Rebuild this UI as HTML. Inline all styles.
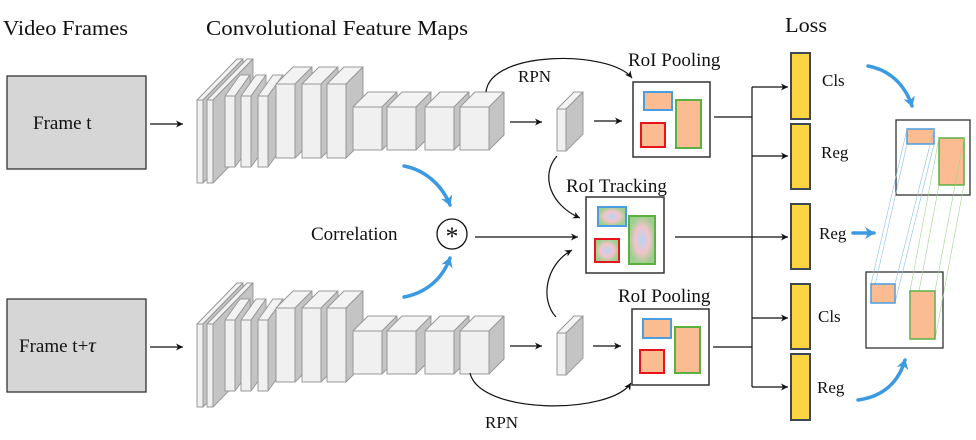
<!DOCTYPE html>
<html><head><meta charset="utf-8"><style>
html,body{margin:0;padding:0;background:#fff;}
svg{display:block;}
text{font-family:"Liberation Serif",serif;fill:#111;}
</style></head><body>
<svg width="976" height="440" viewBox="0 0 976 440" xmlns="http://www.w3.org/2000/svg">
<defs>
<marker id="ah" markerWidth="8" markerHeight="8" refX="7" refY="4" orient="auto" markerUnits="userSpaceOnUse">
<path d="M0,0.5 L7,4 L0,7.5 L2,4 Z" fill="#111"/></marker>
<marker id="bh" markerWidth="12" markerHeight="12" refX="9" refY="6" orient="auto" markerUnits="userSpaceOnUse">
<path d="M0,0 L10,6 L0,12 L3,6 Z" fill="#3b9ae1"/></marker>
<radialGradient id="rg"><stop offset="0" stop-color="#b8d4f5"/><stop offset="0.55" stop-color="#f2c4cc"/><stop offset="1" stop-color="#9fcf8e"/></radialGradient>
<g id="conv" stroke="#999" stroke-width="1" stroke-linejoin="round">
<g><polygon points="197,100 237,59 243,59 203,100" fill="#f3f3f3"/><polygon points="203,100 243,59 243,142 203,183" fill="#c4c4c4"/><rect x="197" y="100" width="6" height="83" fill="#f0f0f0"/></g>
<g><polygon points="207,100 247,59 253,59 213,100" fill="#f3f3f3"/><polygon points="213,100 253,59 253,142 213,183" fill="#c4c4c4"/><rect x="207" y="100" width="6" height="83" fill="#f0f0f0"/></g>
<g><polygon points="225,96 240,75 250,75 235,96" fill="#f3f3f3"/><polygon points="235,96 250,75 250,146 235,167" fill="#c4c4c4"/><rect x="225" y="96" width="10" height="71" fill="#f0f0f0"/></g>
<g><polygon points="241,96 256,75 266,75 251,96" fill="#f3f3f3"/><polygon points="251,96 266,75 266,146 251,167" fill="#c4c4c4"/><rect x="241" y="96" width="10" height="71" fill="#f0f0f0"/></g>
<g><polygon points="258,96 273,75 283,75 268,96" fill="#f3f3f3"/><polygon points="268,96 283,75 283,146 268,167" fill="#c4c4c4"/><rect x="258" y="96" width="10" height="71" fill="#f0f0f0"/></g>
<g><polygon points="276,84 293,67 312,67 295,84" fill="#f3f3f3"/><polygon points="295,84 312,67 312,141 295,158" fill="#c4c4c4"/><rect x="276" y="84" width="19" height="74" fill="#f0f0f0"/></g>
<g><polygon points="302,84 319,67 338,67 321,84" fill="#f3f3f3"/><polygon points="321,84 338,67 338,141 321,158" fill="#c4c4c4"/><rect x="302" y="84" width="19" height="74" fill="#f0f0f0"/></g>
<g><polygon points="327,84 344,67 363,67 346,84" fill="#f3f3f3"/><polygon points="346,84 363,67 363,141 346,158" fill="#c4c4c4"/><rect x="327" y="84" width="19" height="74" fill="#f0f0f0"/></g>
<g><polygon points="353,107 368,92 397,92 382,107" fill="#f3f3f3"/><polygon points="382,107 397,92 397,135 382,150" fill="#c4c4c4"/><rect x="353" y="107" width="29" height="43" fill="#f0f0f0"/></g>
<g><polygon points="387,107 402,92 431,92 416,107" fill="#f3f3f3"/><polygon points="416,107 431,92 431,135 416,150" fill="#c4c4c4"/><rect x="387" y="107" width="29" height="43" fill="#f0f0f0"/></g>
<g><polygon points="425,107 440,92 469,92 454,107" fill="#f3f3f3"/><polygon points="454,107 469,92 469,135 454,150" fill="#c4c4c4"/><rect x="425" y="107" width="29" height="43" fill="#f0f0f0"/></g>
<g><polygon points="460,107 475,92 504,92 489,107" fill="#f3f3f3"/><polygon points="489,107 504,92 504,135 489,150" fill="#c4c4c4"/><rect x="460" y="107" width="29" height="43" fill="#f0f0f0"/></g>
<g><polygon points="557,109 574,92 583,92 566,109" fill="#f3f3f3"/><polygon points="566,109 583,92 583,134 566,151" fill="#c4c4c4"/><rect x="557" y="109" width="9" height="42" fill="#f0f0f0"/></g>
</g>
</defs>

<!-- titles -->
<text x="3" y="35" font-size="21" textLength="125" lengthAdjust="spacingAndGlyphs">Video Frames</text>
<text x="206" y="35" font-size="21" textLength="262" lengthAdjust="spacingAndGlyphs">Convolutional Feature Maps</text>
<text x="785" y="32" font-size="21" textLength="42" lengthAdjust="spacingAndGlyphs">Loss</text>

<!-- frames -->
<rect x="7" y="76" width="139" height="93" fill="#d6d6d6" stroke="#333" stroke-width="1.3"/>
<text x="33" y="129" font-size="19">Frame t</text>
<rect x="7" y="299" width="139" height="93" fill="#d6d6d6" stroke="#333" stroke-width="1.3"/>
<text x="19" y="352" font-size="19">Frame t+<tspan font-style="italic" font-size="21">τ</tspan></text>

<use href="#conv"/>
<use href="#conv" y="224"/>

<g stroke="#111" stroke-width="1.2" fill="none">
<line x1="150" y1="124" x2="183" y2="124" marker-end="url(#ah)"/>
<line x1="150" y1="347" x2="183" y2="347" marker-end="url(#ah)"/>
<line x1="510" y1="122" x2="542" y2="122" marker-end="url(#ah)"/>
<line x1="510" y1="346" x2="542" y2="346" marker-end="url(#ah)"/>
<line x1="594" y1="121" x2="622" y2="121" marker-end="url(#ah)"/>
<line x1="593" y1="346" x2="621" y2="346" marker-end="url(#ah)"/>
<path d="M486,92 C490,50 610,50 632,78" marker-end="url(#ah)"/>
<path d="M470,373 C480,415 610,415 631,383" marker-end="url(#ah)"/>
<path d="M557,156 C540,175 550,205 580,218" marker-end="url(#ah)"/>
<path d="M556,317 C540,300 545,265 572,250" marker-end="url(#ah)"/>
<line x1="475" y1="237" x2="578" y2="237" marker-end="url(#ah)"/>
<line x1="675" y1="237" x2="788" y2="237" marker-end="url(#ah)"/>
<line x1="714" y1="117" x2="752" y2="117"/>
<line x1="713" y1="347" x2="752" y2="347"/>
<line x1="752" y1="87" x2="752" y2="387"/>
<line x1="752" y1="87" x2="788" y2="87" marker-end="url(#ah)"/>
<line x1="752" y1="156" x2="788" y2="156" marker-end="url(#ah)"/>
<line x1="752" y1="318" x2="788" y2="318" marker-end="url(#ah)"/>
<line x1="752" y1="387" x2="788" y2="387" marker-end="url(#ah)"/>
</g>

<text x="518" y="82" font-size="17">RPN</text>
<text x="485" y="428" font-size="17">RPN</text>

<!-- correlation -->
<text x="311" y="240" font-size="19">Correlation</text>
<circle cx="452" cy="234" r="15" fill="#fff" stroke="#111" stroke-width="1.3"/>
<text x="452" y="245" font-size="26" text-anchor="middle" font-family="Liberation Sans">*</text>
<g stroke="#3b9ae1" stroke-width="3.5" fill="none" stroke-linecap="round">
<path d="M404,166 C425,170 442,185 450,205" marker-end="url(#bh)"/>
<path d="M404,297 C425,293 442,280 450,258" marker-end="url(#bh)"/>
<path d="M868,66 C890,70 905,85 912,106" marker-end="url(#bh)"/>
<path d="M858,400 C880,397 898,385 905,360" marker-end="url(#bh)"/>
<line x1="853" y1="233" x2="874" y2="233" marker-end="url(#bh)"/>
</g>

<!-- RoI pooling top -->
<text x="628" y="66" font-size="19">RoI Pooling</text>
<rect x="633" y="82" width="77" height="75" fill="#fff" stroke="#333" stroke-width="1.5"/>
<rect x="644" y="92" width="28" height="18" fill="#fcbc92" stroke="#4a9ee0" stroke-width="2"/>
<rect x="641" y="123" width="24" height="24" fill="#fcbc92" stroke="#e8141b" stroke-width="2"/>
<rect x="676" y="100" width="25" height="48" fill="#fcbc92" stroke="#5bb043" stroke-width="2"/>
<!-- RoI pooling bottom -->
<text x="618" y="302" font-size="19">RoI Pooling</text>
<rect x="632" y="309" width="77" height="76" fill="#fff" stroke="#333" stroke-width="1.5"/>
<rect x="643" y="319" width="28" height="19" fill="#fcbc92" stroke="#4a9ee0" stroke-width="2"/>
<rect x="640" y="350" width="24" height="23" fill="#fcbc92" stroke="#e8141b" stroke-width="2"/>
<rect x="675" y="327" width="25" height="46" fill="#fcbc92" stroke="#5bb043" stroke-width="2"/>
<!-- RoI tracking -->
<text x="566" y="192" font-size="19">RoI Tracking</text>
<rect x="586" y="197" width="78" height="76" fill="#fff" stroke="#333" stroke-width="1.5"/>
<rect x="598" y="207" width="28" height="19" fill="url(#rg)" stroke="#4a9ee0" stroke-width="2"/>
<rect x="595" y="239" width="24" height="23" fill="url(#rg)" stroke="#e8141b" stroke-width="2"/>
<rect x="629" y="216" width="26" height="48" fill="url(#rg)" stroke="#5bb043" stroke-width="2"/>

<!-- loss bars -->
<g fill="#fdd441" stroke="#3c4656" stroke-width="2">
<rect x="791" y="53" width="19" height="66"/>
<rect x="791" y="124" width="19" height="65"/>
<rect x="791" y="204" width="19" height="65"/>
<rect x="791" y="284" width="19" height="65"/>
<rect x="791" y="354" width="19" height="66"/>
</g>
<text x="822" y="86" font-size="17">Cls</text>
<text x="821" y="158" font-size="17">Reg</text>
<text x="819" y="239" font-size="17">Reg</text>
<text x="818" y="322" font-size="17">Cls</text>
<text x="817" y="393" font-size="17">Reg</text>

<!-- right boxes -->
<rect x="896" y="120" width="74" height="75" fill="#fff" stroke="#333" stroke-width="1.3"/>
<rect x="907" y="129" width="27" height="15" fill="#fcbc92" stroke="#4a9ee0" stroke-width="1.5"/>
<rect x="939" y="138" width="25" height="47" fill="#fcbc92" stroke="#5bb043" stroke-width="1.5"/>
<rect x="866" y="272" width="77" height="76" fill="#fff" stroke="#333" stroke-width="1.3"/>
<g stroke-width="0.6" fill="none">
<g stroke="#8ec0ec">
<line x1="907" y1="129" x2="871" y2="284"/><line x1="934" y1="129" x2="895" y2="284"/>
<line x1="907" y1="144" x2="871" y2="303"/><line x1="934" y1="144" x2="895" y2="303"/>
</g>
<g stroke="#9fd48b">
<line x1="939" y1="138" x2="910" y2="291"/><line x1="964" y1="138" x2="935" y2="291"/>
<line x1="939" y1="185" x2="910" y2="339"/><line x1="964" y1="185" x2="935" y2="339"/>
</g>
</g>
<rect x="871" y="284" width="24" height="19" fill="#fcbc92" stroke="#4a9ee0" stroke-width="1.5"/>
<rect x="910" y="291" width="25" height="48" fill="#fcbc92" stroke="#5bb043" stroke-width="1.5"/>
</svg>
</body></html>
